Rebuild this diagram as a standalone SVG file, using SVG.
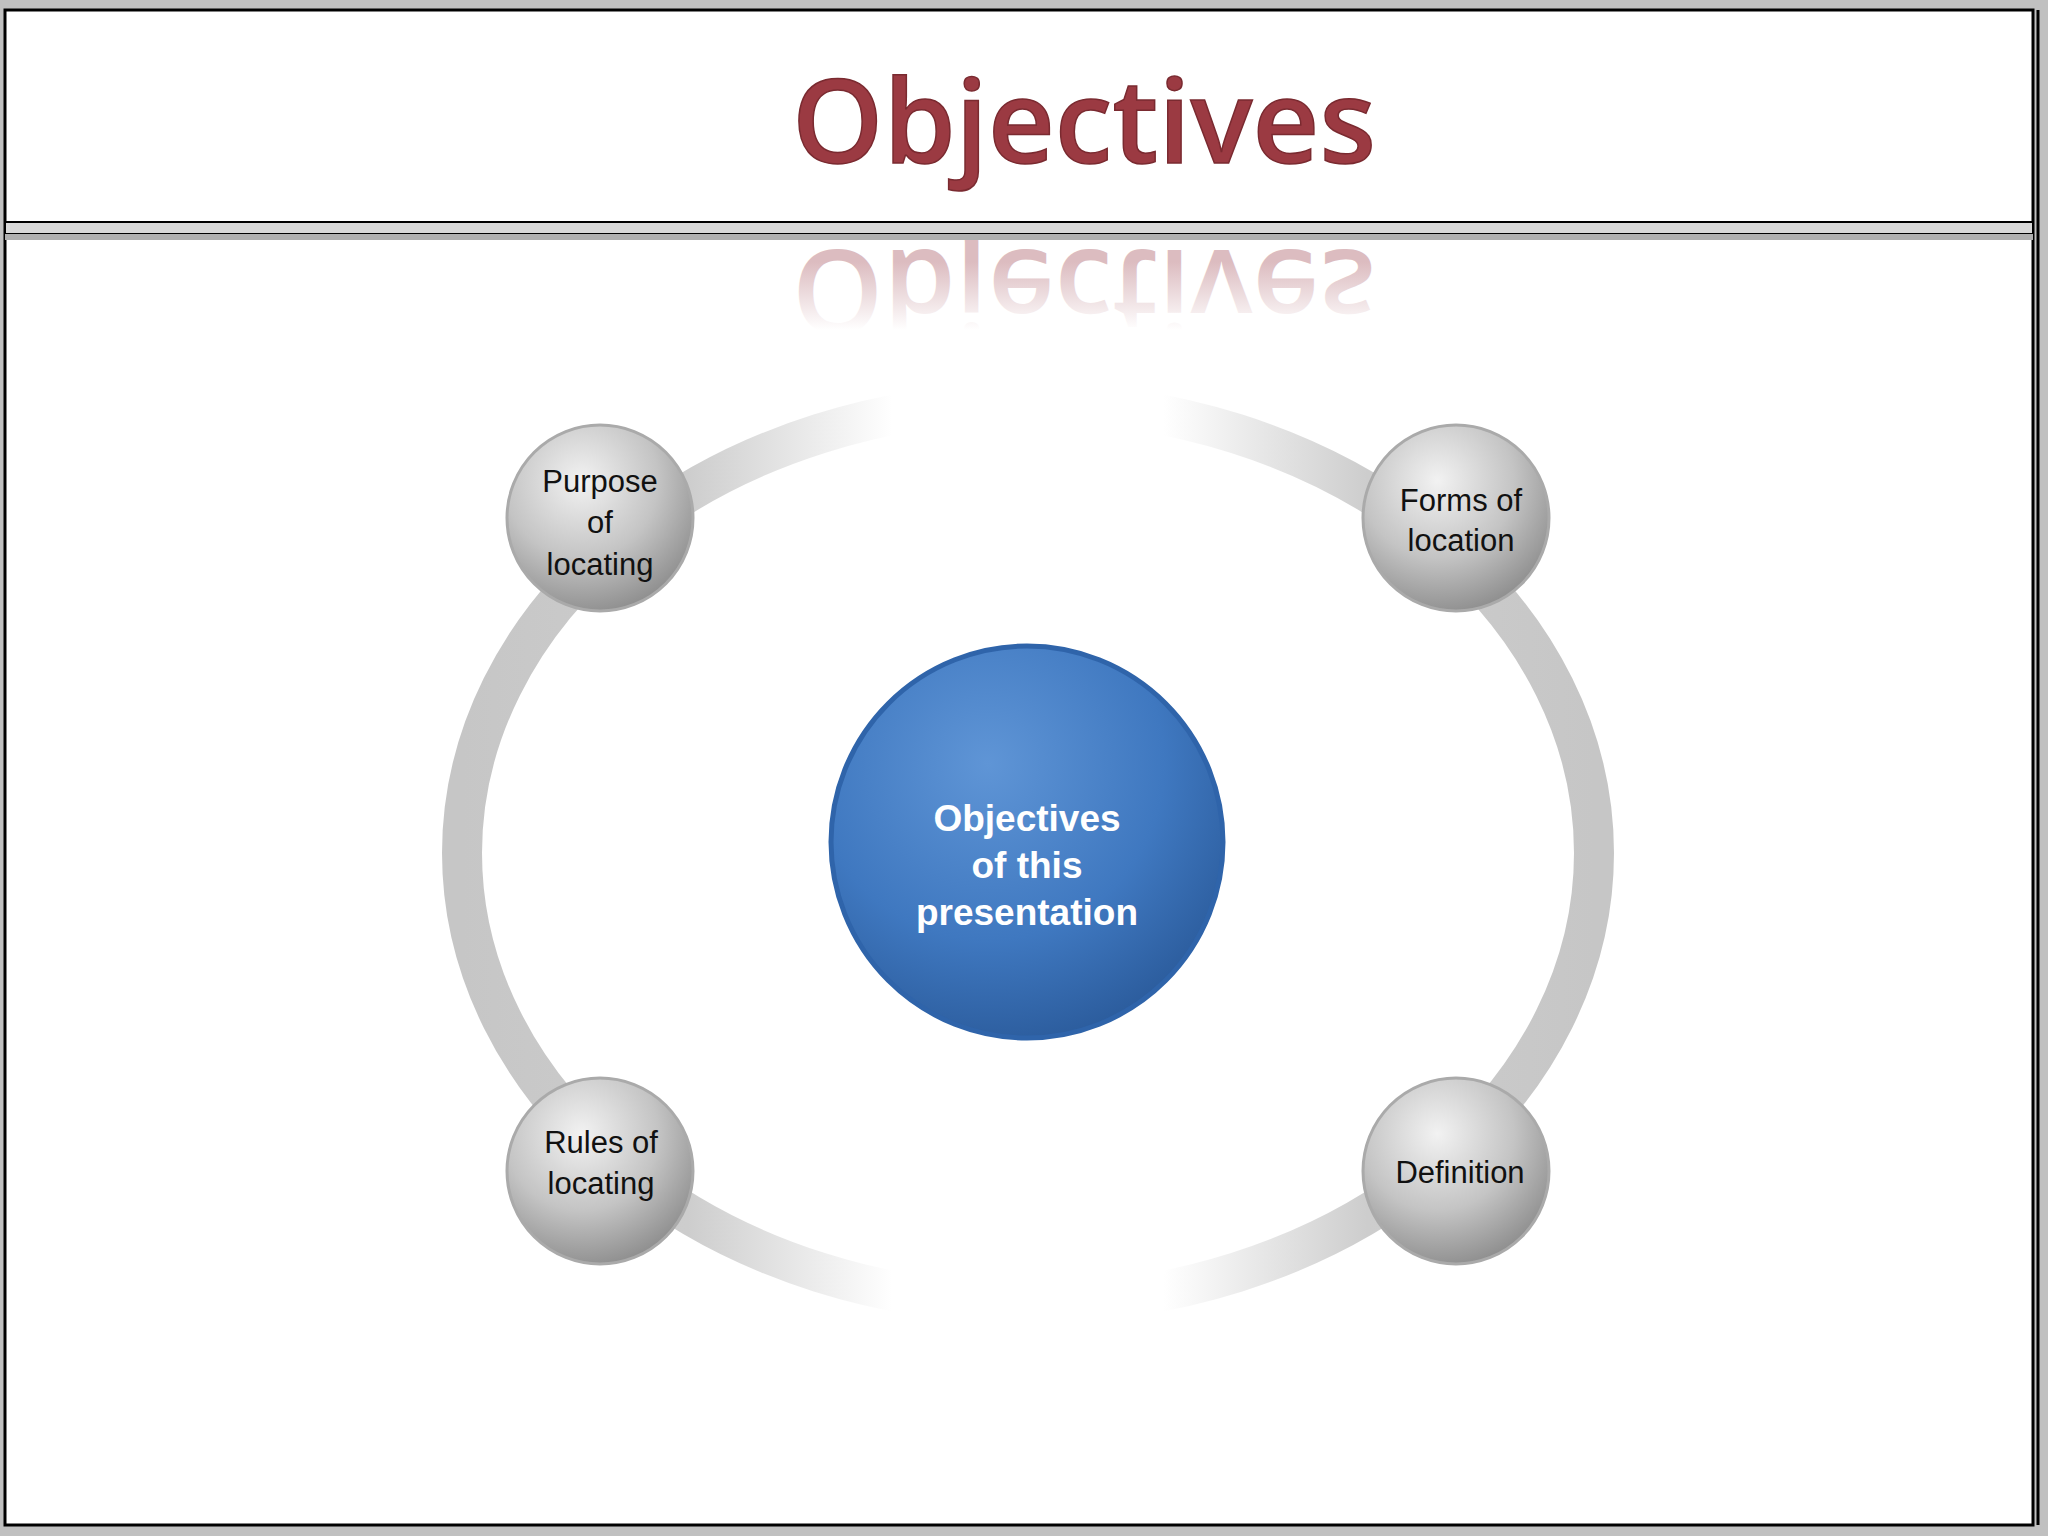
<svg xmlns="http://www.w3.org/2000/svg" width="2048" height="1536" viewBox="0 0 2048 1536">
<defs>
<style>
.lbl{font-family:Arial,"Liberation Sans",sans-serif;font-size:31px;fill:#111;text-anchor:middle}
.ctr{font-family:Arial,"Liberation Sans",sans-serif;font-size:37px;font-weight:bold;fill:#fff;text-anchor:middle}
.ttl{font-family:"Open Sans","DejaVu Sans",sans-serif;font-size:116px;font-weight:600;text-anchor:middle}
</style>
<radialGradient id="gs" cx="0.4" cy="0.3" r="0.75">
<stop offset="0" stop-color="#f2f2f2"/><stop offset="0.55" stop-color="#c4c4c4"/><stop offset="1" stop-color="#8a8a8a"/>
</radialGradient>
<radialGradient id="bs" cx="0.4" cy="0.3" r="0.75">
<stop offset="0" stop-color="#5f95d6"/><stop offset="0.6" stop-color="#3f78c0"/><stop offset="1" stop-color="#2a5a9a"/>
</radialGradient>
<linearGradient id="ring" gradientUnits="userSpaceOnUse" x1="462" y1="0" x2="1594" y2="0">
<stop offset="0" stop-color="#c6c6c6"/><stop offset="0.2" stop-color="#cdcdcd"/><stop offset="0.38" stop-color="#ffffff"/><stop offset="0.62" stop-color="#ffffff"/><stop offset="0.8" stop-color="#cdcdcd"/><stop offset="1" stop-color="#c6c6c6"/>
</linearGradient>
<linearGradient id="refl" gradientUnits="userSpaceOnUse" x1="0" y1="-262" x2="0" y2="-330">
<stop offset="0" stop-color="#dcbcc0"/><stop offset="1" stop-color="#ffffff"/>
</linearGradient>
</defs>
<rect width="2048" height="1536" fill="#c0c0c0"/>
<rect x="5" y="10" width="2028" height="1515" fill="#fff" stroke="#000" stroke-width="3"/>
<line x1="2038" y1="10" x2="2038" y2="1525" stroke="#000" stroke-width="3"/>
<g id="title">
<text class="ttl" x="1084" y="163" fill="#9b3a42" stroke="#7a2a30" stroke-width="1.5">Objectives</text>
<text class="ttl" x="1084" y="-250" fill="url(#refl)" transform="scale(1,-1)">Objectives</text>
</g>
<rect x="5" y="222" width="2028" height="12" fill="#d8d8d8" stroke="#000" stroke-width="2"/>
<rect x="5" y="234" width="2028" height="6" fill="#b0b0b0"/>
<g id="connectors">
<ellipse cx="1028" cy="853" rx="566" ry="451" fill="none" stroke="url(#ring)" stroke-width="40"/>
</g>
<g id="center">
<circle cx="1027" cy="842" r="196" fill="url(#bs)" stroke="#2f64aa" stroke-width="5"/>
<text class="ctr" x="1027" y="831">Objectives</text>
<text class="ctr" x="1027" y="878">of this</text>
<text class="ctr" x="1027" y="925">presentation</text>
</g>
<g id="n1">
<circle cx="600" cy="518" r="93" fill="url(#gs)" stroke="#aaa" stroke-width="3"/>
<text class="lbl" x="600" y="492">Purpose</text>
<text class="lbl" x="600" y="533">of</text>
<text class="lbl" x="600" y="575">locating</text>
</g>
<g id="n2">
<circle cx="1456" cy="518" r="93" fill="url(#gs)" stroke="#aaa" stroke-width="3"/>
<text class="lbl" x="1461" y="511">Forms of</text>
<text class="lbl" x="1461" y="551">location</text>
</g>
<g id="n3">
<circle cx="600" cy="1171" r="93" fill="url(#gs)" stroke="#aaa" stroke-width="3"/>
<text class="lbl" x="601" y="1153">Rules of</text>
<text class="lbl" x="601" y="1194">locating</text>
</g>
<g id="n4">
<circle cx="1456" cy="1171" r="93" fill="url(#gs)" stroke="#aaa" stroke-width="3"/>
<text class="lbl" x="1460" y="1183">Definition</text>
</g>
</svg>
